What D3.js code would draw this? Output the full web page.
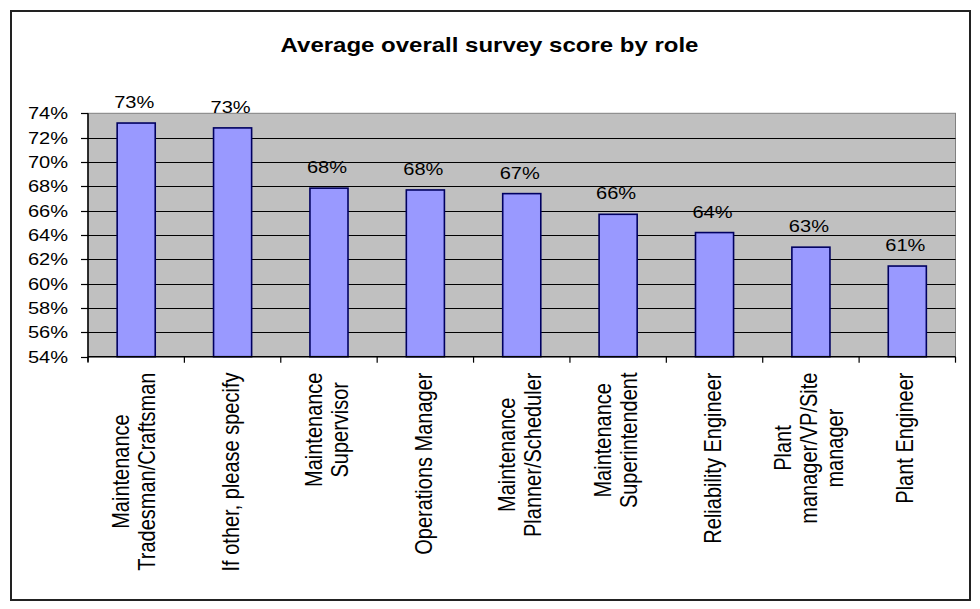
<!DOCTYPE html>
<html><head><meta charset="utf-8">
<script src="https://cdn.jsdelivr.net/npm/d3@7"></script>
<style>body{margin:0;background:#fff;}svg{display:block;}</style>
</head><body>
<script>
const categories = [
  ["Maintenance","Tradesman/Craftsman"],
  ["If other, please specify"],
  ["Maintenance","Supervisor"],
  ["Operations Manager"],
  ["Maintenance","Planner/Scheduler"],
  ["Maintenance","Superintendent"],
  ["Reliability Engineer"],
  ["Plant","manager/VP/Site","manager"],
  ["Plant Engineer"]
];
const values = [73.2, 72.8, 67.85, 67.7, 67.4, 65.7, 64.2, 63.0, 61.45];
const yTicks = [54,56,58,60,62,64,66,68,70,72,74];
const title = "Average overall survey score by role";

(function () {
const W = 980, H = 609, SX = 1.2;
const pL = 88, pR = 955.5, pT = 113.3, pB = 356.7;

const svg = d3.select("body").append("svg").attr("width", W).attr("height", H);
svg.append("rect").attr("width", W).attr("height", H).attr("fill", "#fff");
svg.append("rect").attr("x", 11).attr("y", 11).attr("width", 959).attr("height", 589)
  .attr("fill", "none").attr("stroke", "#222").attr("stroke-width", 2);

svg.append("text").attr("transform", `translate(489.5,52) scale(${SX},1)`)
  .attr("text-anchor", "middle").attr("font-family", "Liberation Sans, Arial, sans-serif")
  .attr("font-weight", "bold").attr("font-size", 20).attr("fill", "#000").text(title);

const idx = d3.range(categories.length);
const x = d3.scaleBand().domain(idx).range([pL, pR]).padding(0);
const y = d3.scaleLinear().domain([54, 74]).range([pB, pT]);

svg.append("rect").attr("x", pL).attr("y", pT).attr("width", pR - pL).attr("height", pB - pT)
  .attr("fill", "#c0c0c0").attr("stroke", "#808080").attr("stroke-width", 1);

svg.append("g").selectAll("line").data(yTicks.filter(t => t > 54 && t < 74)).join("line")
  .attr("x1", pL).attr("x2", pR).attr("y1", d => Math.round(y(d)) + 0.5).attr("y2", d => Math.round(y(d)) + 0.5)
  .attr("stroke", "#000").attr("stroke-width", 1.2);

const bw = x.bandwidth() * 0.395;
svg.append("g").selectAll("rect").data(values).join("rect")
  .attr("x", (d, i) => x(i) + (x.bandwidth() - bw) / 2)
  .attr("y", d => y(d)).attr("width", bw).attr("height", d => pB - y(d))
  .attr("fill", "#9999ff").attr("stroke", "#000060").attr("stroke-width", 1.6);

const fmt = d3.format(".0f");
svg.append("g").selectAll("text").data(values).join("text")
  .attr("transform", (d, i) => `translate(${x(i) + x.bandwidth() / 2 - 2},${y(d) - 15}) scale(${SX},1)`)
  .attr("text-anchor", "middle").attr("font-family", "Liberation Sans, Arial, sans-serif")
  .attr("font-size", 16.7).attr("fill", "#000").text(d => fmt(d) + "%");

// y axis
const ya = svg.append("g");
ya.append("line").attr("x1", pL).attr("x2", pL).attr("y1", pT).attr("y2", pB + 5)
  .attr("stroke", "#000").attr("stroke-width", 1.5);
ya.selectAll("line.t").data(yTicks).join("line").attr("class", "t")
  .attr("x1", pL - 7).attr("x2", pL).attr("y1", d => Math.round(y(d)) + 0.5).attr("y2", d => Math.round(y(d)) + 0.5)
  .attr("stroke", "#000").attr("stroke-width", 1.2);
ya.selectAll("text").data(yTicks).join("text")
  .attr("transform", d => `translate(68,${y(d) + 6}) scale(${SX},1)`)
  .attr("text-anchor", "end").attr("font-family", "Liberation Sans, Arial, sans-serif")
  .attr("font-size", 16.7).attr("fill", "#000").text(d => d + "%");

// x axis
const xa = svg.append("g");
xa.append("line").attr("x1", pL).attr("x2", pR).attr("y1", pB).attr("y2", pB)
  .attr("stroke", "#000").attr("stroke-width", 1.5);
xa.selectAll("line.t").data(d3.range(categories.length + 1)).join("line").attr("class", "t")
  .attr("x1", i => pL + i * x.step()).attr("x2", i => pL + i * x.step())
  .attr("y1", pB).attr("y2", pB + 6).attr("stroke", "#000").attr("stroke-width", 1.2);

const fs = 20, lh = 21.7, anchorY = 372.5;
categories.forEach((lines, i) => {
  const n = lines.length;
  const off = -((n - 1) * lh - 0.72 * fs) / 2 - 2.5 / SX;
  const g = xa.append("g");
  const t = g.append("text").attr("text-anchor", "middle")
    .attr("font-family", "Liberation Sans, Arial, sans-serif").attr("font-size", fs).attr("fill", "#000");
  lines.forEach((ln, j) => t.append("tspan").attr("x", 0).attr("y", off + j * lh).text(ln));
  let maxW = 0;
  t.selectAll("tspan").each(function () { maxW = Math.max(maxW, this.getComputedTextLength()); });
  t.selectAll("tspan").attr("x", -maxW / 2);
  g.attr("transform", `translate(${x(i) + x.bandwidth() / 2},${anchorY}) scale(${SX},1) rotate(-90)`);
});
})();
</script>
</body></html>
